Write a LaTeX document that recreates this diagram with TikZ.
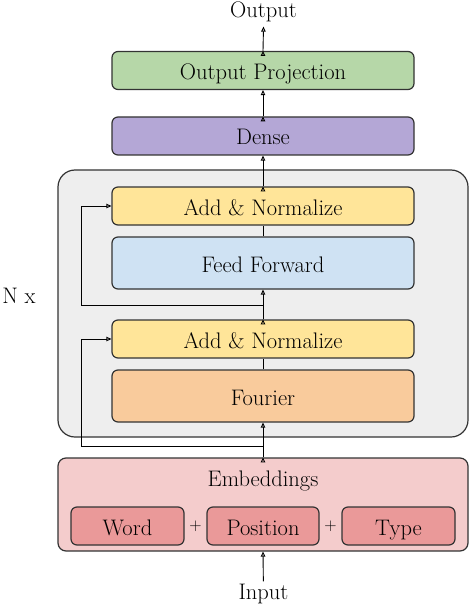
\documentclass[tikz,border=0pt]{standalone}
\usetikzlibrary{arrows.meta}

\definecolor{edgegray}{HTML}{333333}
\definecolor{projgreen}{HTML}{B6D7A8}
\definecolor{densepurple}{HTML}{B4A7D6}
\definecolor{normyellow}{HTML}{FFE599}
\definecolor{ffblue}{HTML}{CFE2F3}
\definecolor{fourorange}{HTML}{F9CB9C}
\definecolor{blockgray}{HTML}{EEEEEE}
\definecolor{embpink}{HTML}{F4CCCC}
\definecolor{embred}{HTML}{EA9999}

\tikzset{
    box/.style={draw=edgegray, line width=1.2pt, rounded corners=6pt,
        minimum width=302pt, minimum height=38pt, inner sep=0pt,
        text height=18pt, text depth=0pt},
    subbox/.style={box, minimum width=113pt},
    plussign/.style={font=\fontsize{17}{20}\selectfont, inner sep=0pt},
    arr/.style={-{Triangle[open, length=5pt, width=4.5pt]}, line width=0.9pt, draw=black},
    link/.style={-, line width=0.9pt, draw=black}
}

\begin{document}
\begin{tikzpicture}[x=1pt, y=-1pt, font=\fontsize{22.5}{27}\selectfont]
\useasboundingbox (0,0) rectangle (470,604);
\begin{scope}
    % repeated block
    \node (blk) [draw=edgegray, line width=1.2pt, fill=blockgray, rounded corners=17pt,
        minimum width=410pt, minimum height=267pt] at (263,303.5) {};
    \node (nx) [anchor=base] at (19,303) {N x};

    \node (out) [anchor=base, inner sep=4pt] at (263.5,18) {Output};
    \node (proj) [box, fill=projgreen] at (263,70.5) {Output Projection};
    \node (dense) [box, fill=densepurple] at (263,136) {Dense};
    \node (addB) [box, fill=normyellow] at (263,206) {Add \& Normalize};
    \node (ff) [box, fill=ffblue, minimum height=52pt] at (263,263) {Feed Forward};
    \node (addA) [box, fill=normyellow] at (263,339) {Add \& Normalize};
    \node (four) [box, fill=fourorange, minimum height=52pt] at (263,396) {Fourier};

    % embeddings
    \node (emb) [draw=edgegray, line width=1.2pt, fill=embpink, rounded corners=8pt,
        minimum width=410pt, minimum height=93pt] at (263,504.5) {};
    \node (embl) [anchor=base] at (263,486) {Embeddings};
    \node (word) [subbox, fill=embred] at (127.5,526) {Word};
    \node (pos) [subbox, fill=embred, minimum width=112pt] at (263,526) {Position};
    \node (type) [subbox, fill=embred] at (398.5,526) {Type};
    \node (plus1) [plussign] at (195.5,526) {+};
    \node (plus2) [plussign] at (330.5,526) {+};
    \node (in) [anchor=base, inner sep=2pt] at (263.5,599) {Input};

    % residual corners
    \coordinate (r1) at (263,446);
    \coordinate (l1) at (81,446);
    \coordinate (r2) at (263,305);
    \coordinate (l2) at (81,305);

    \path [arr] (in) edge (emb.south);
    \path [arr] (emb.north) edge (four.south);
    \path [link] (four.north) edge (addA.south);
    \path [arr] (addA.north) edge (ff.south);
    \path [link] (ff.north) edge (addB.south);
    \path [arr] (addB.north) edge (dense.south);
    \path [arr] (dense.north) edge (proj.south);
    \path [arr] (proj.north) edge (out.south);
    \draw [arr] (r1) -- (l1) |- (addA.west);
    \draw [arr] (r2) -- (l2) |- (addB.west);
\end{scope}
\end{tikzpicture}
\end{document}
